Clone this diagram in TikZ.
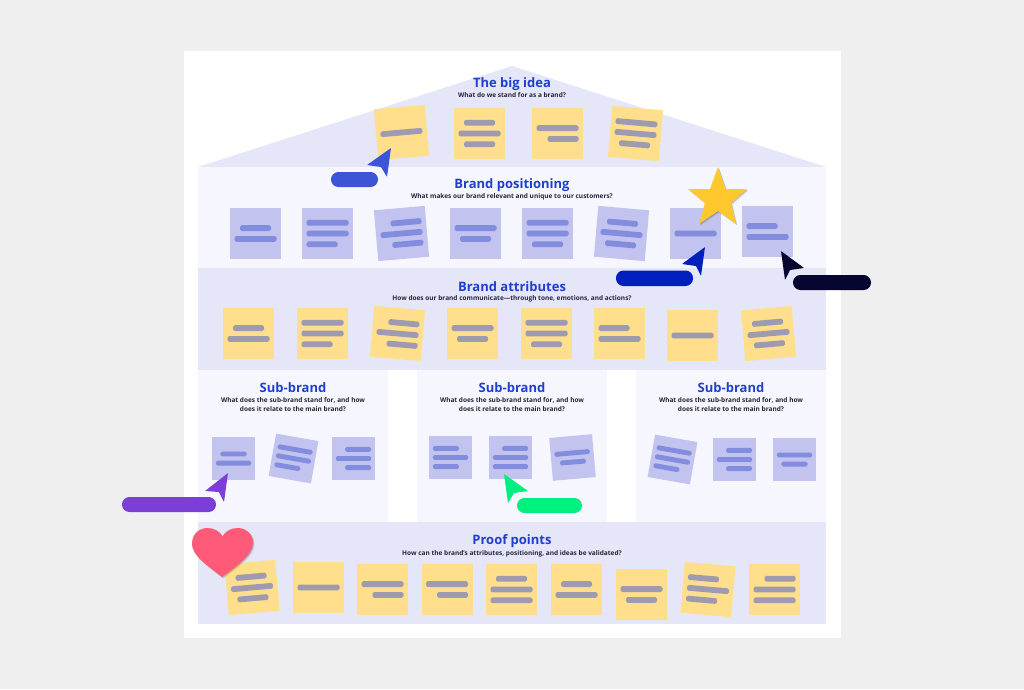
\documentclass[tikz,border=0pt]{standalone}
\usepackage{fontspec}
\setmainfont{Open Sans}
\definecolor{pagebg}{HTML}{EFEFEF}
\definecolor{bandA}{HTML}{E5E6F8}
\definecolor{bandB}{HTML}{F6F7FE}
\definecolor{noteY}{HTML}{FFDF8C}
\definecolor{barY}{HTML}{9E9AB0}
\definecolor{noteP}{HTML}{C2C3EE}
\definecolor{barP}{HTML}{838DE0}
\definecolor{titleblue}{HTML}{1E3FD0}
\definecolor{subtext}{HTML}{25253A}
\definecolor{curA}{HTML}{3B55D6}
\definecolor{curB}{HTML}{0020BD}
\definecolor{curC}{HTML}{05052F}
\definecolor{curD}{HTML}{7B3FD8}
\definecolor{curE}{HTML}{00F080}
\definecolor{gold}{HTML}{FFC82E}
\definecolor{heartc}{HTML}{FF5A78}
\tikzset{
  titletext/.style={font=\bfseries\fontsize{13}{15}\selectfont,text=titleblue,inner sep=0pt,anchor=center},
  subq/.style={font=\bfseries\fontsize{6.5}{9}\selectfont,text=subtext,inner sep=0pt,anchor=center,align=center},
  band/.style={draw=none},
  pillshape/.style={rounded corners=7.4pt,draw=none},
  softA/.style={black,opacity=.08,shift={(1.6,1.6)}},
  softB/.style={black,opacity=.18,shift={(.8,.8)}},
}
\def\bxf{0}\def\blf{42}
\def\bxl{-5.5}\def\bll{31}
\def\bxr{5.5}\def\blr{31}
\def\bxc{0}\def\blc{31}
\newcommand{\stickynote}[8]{%
  \begin{scope}[shift={(#1-.5,#2-.5)},rotate=#3,scale=#4/51]
    \fill[#5] (-25.5,-25.5) rectangle (25.5,25.5);
    \foreach \rowcode [count=\rowno] in {#8} {
      \pgfmathsetmacro{\rowy}{(\rowno-1-(#7-1)/2)*10.8}
      \pgfmathsetmacro{\rowx}{\csname bx\rowcode\endcsname}
      \pgfmathsetmacro{\rowl}{\csname bl\rowcode\endcsname}
      \fill[#6,rounded corners=1.6pt] (\rowx-\rowl/2,\rowy-2.9) rectangle (\rowx+\rowl/2,\rowy+2.9);
    }
  \end{scope}}
\newcommand{\ynote}[5][0]{\stickynote{#2}{#3}{#1}{51}{noteY}{barY}{#4}{#5}}
\newcommand{\pnote}[5][0]{\stickynote{#2}{#3}{#1}{51}{noteP}{barP}{#4}{#5}}
\newcommand{\snote}[5][0]{\stickynote{#2}{#3}{#1}{43}{noteP}{barP}{#4}{#5}}
\newcommand{\starshape}{(718,167) -- (725.5,189) -- (747,189) -- (731,203) -- (736,224) -- (718,211) -- (699,224) -- (705,203) -- (688,189) -- (710,189) -- cycle}
\newcommand{\heartshape}{(222,577)
   .. controls (208,566) and (191,555) .. (192,543)
   .. controls (192.5,533) and (200,528) .. (207.5,528)
   .. controls (214,528) and (219.5,531) .. (222.5,536.5)
   .. controls (225.5,531) and (231,528) .. (237.5,528)
   .. controls (245,528) and (253,533) .. (253,543)
   .. controls (253,555) and (236,566) .. (222,577) -- cycle}
\begin{document}
\begin{tikzpicture}[x=1pt,y=-1pt]
\useasboundingbox (0,0) rectangle (1024,689);
\fill[pagebg] (0,0) rectangle (1024,689);
\fill[white] (184,51) rectangle (841,638);
\fill[band,bandA] (198,167) -- (512,66) -- (826,167) -- cycle;
\fill[band,bandB] (198,167) rectangle (826,268);
\fill[band,bandA] (198,268) rectangle (826,369.5);
\fill[band,bandB] (198,369.5) rectangle (388,522);
\fill[band,bandB] (417,369.5) rectangle (607,522);
\fill[band,bandB] (636,369.5) rectangle (826,522);
\fill[band,bandA] (198,522) rectangle (826,624);
\node[titletext] (t1) at (512,84) {The big idea};
\node[subq] (q1) at (512,95.5) {What do we stand for as a brand?};
\node[titletext] (t2) at (512,185) {Brand positioning};
\node[subq] (q2) at (512,196.5) {What makes our brand relevant and unique to our customers?};
\node[titletext] (t3) at (512,286.5) {Brand attributes};
\node[subq] (q3) at (512,299) {How does our brand communicate—through tone, emotions, and actions?};
\node[titletext] (t4) at (293,388) {Sub-brand};
\node[subq] (q4) at (293,405) {What does the sub-brand stand for, and how\\does it relate to the main brand?};
\node[titletext] (t5) at (512,388) {Sub-brand};
\node[subq] (q5) at (512,405) {What does the sub-brand stand for, and how\\does it relate to the main brand?};
\node[titletext] (t6) at (731,388) {Sub-brand};
\node[subq] (q6) at (731,405) {What does the sub-brand stand for, and how\\does it relate to the main brand?};
\node[titletext] (t7) at (512,541) {Proof points};
\node[subq] (q7) at (512,554) {How can the brand's attributes, positioning, and ideas be validated?};
\ynote[5]{402}{133}{1}{f}
\ynote{480}{134}{3}{c,f,c}
\ynote{558}{134}{2}{f,r}
\ynote[-5]{636}{134}{3}{f,f,c}
\pnote{256}{234}{2}{c,f}
\pnote{328}{234}{3}{f,f,l}
\pnote[5]{402}{234}{3}{r,f,r}
\pnote{476}{234}{2}{f,c}
\pnote{548}{234}{3}{f,f,c}
\pnote[-5]{622}{234}{3}{c,f,c}
\pnote{696}{234}{1}{f}
\pnote{768}{232}{2}{l,f}
\ynote{249}{334}{2}{c,f}
\ynote{323}{334}{3}{f,f,l}
\ynote[-5]{398}{334}{3}{r,f,r}
\ynote{473}{334}{2}{f,c}
\ynote{547}{334}{3}{f,f,c}
\ynote{620}{334}{2}{l,f}
\ynote{693}{336}{1}{f}
\ynote[5]{769}{334}{3}{c,f,c}
\snote{234}{459}{2}{c,f}
\snote[-10]{294}{459}{3}{f,f,l}
\snote{354}{459}{3}{r,f,r}
\snote{451}{458}{3}{l,f,l}
\snote{511}{458}{3}{r,f,f}
\snote[5]{573}{458}{2}{f,c}
\snote[-10]{673}{460}{3}{f,f,l}
\snote{735}{460}{3}{r,f,r}
\snote{795}{460}{2}{f,c}
\ynote[5]{252.5}{588}{3}{c,f,c}
\ynote{319}{588}{1}{f}
\ynote{383}{590}{2}{f,r}
\ynote{447.5}{590}{2}{f,r}
\ynote{512}{590}{3}{c,f,f}
\ynote{577}{590}{2}{c,f}
\ynote{642}{595}{2}{f,c}
\ynote[-5]{708.5}{590}{3}{l,f,l}
\ynote{775}{590}{3}{r,f,f}
\fill[softA] \starshape;
\fill[softB] \starshape;
\fill[gold] \starshape;
\fill[softA] \heartshape;
\fill[softB] \heartshape;
\fill[heartc] \heartshape;
\fill[curA,pillshape] (331,172) rectangle (378,187);
\fill[curA,rounded corners=0.6pt] (391,148) -- (367,165) -- (381,167) -- (387,177) -- cycle;
\fill[curB,pillshape] (616,270.5) rectangle (693,286);
\fill[curB,rounded corners=0.6pt] (705,247) -- (682,264) -- (696,266) -- (701,276) -- cycle;
\fill[curC,pillshape] (793,275) rectangle (871,290);
\fill[curC,rounded corners=0.6pt] (781,251) -- (804,268) -- (790,270) -- (785,280) -- cycle;
\fill[curD,pillshape] (122,497) rectangle (216,512);
\fill[curD,rounded corners=0.6pt] (228,473) -- (205,491) -- (219,492) -- (224,502) -- cycle;
\fill[curE,pillshape] (517,498) rectangle (582,513);
\fill[curE,rounded corners=0.6pt] (504,474) -- (528,491) -- (514,493) -- (508,503) -- cycle;
\end{tikzpicture}
\end{document}
